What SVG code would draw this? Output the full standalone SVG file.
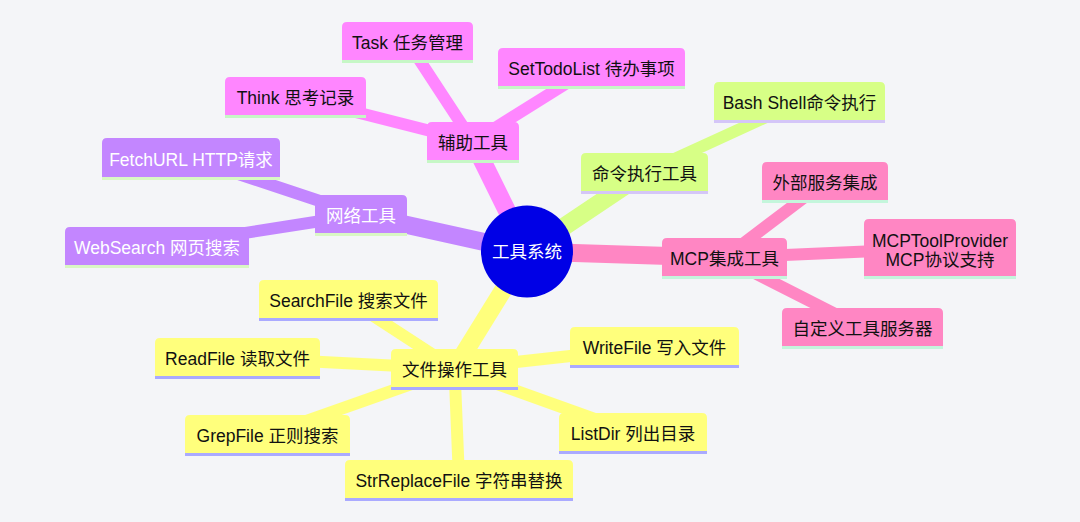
<svg xmlns="http://www.w3.org/2000/svg" width="1080" height="522" viewBox="0 0 1080 522">
<style>
text{font-family:"Liberation Sans","Noto Sans CJK SC",sans-serif;font-size:17.5px;text-anchor:middle;fill:#111}
.e0{stroke-width:18;stroke-linecap:round;fill:none}
.e1{stroke-width:12;stroke-linecap:round;fill:none}
.pk{stroke:#ff86ff}.pu{stroke:#c386ff}.gr{stroke:#d7ff86}.mc{stroke:#ff86c3}.ye{stroke:#ffff7c}
.npk path{fill:#ff86ff}.npk line{stroke:#c6f7c6}
.npu path{fill:#c386ff}.npu line{stroke:#d9f7c4}.npu text{fill:#fff}
.ngr path{fill:#d7ff86}.ngr line{stroke:#d4c6f8}
.nmc path{fill:#ff86c3}.nmc line{stroke:#c4f6dc}
.nye path{fill:#ffff7c}.nye line{stroke:#aaaaff}
line{stroke-width:3}
</style>
<rect width="1080" height="522" fill="#f4f5f8"/>
<g id="connectors">
<line class="e0 pk" x1="527" y1="251.5" x2="473" y2="141.75"/>
<line class="e1 pk" x1="473" y1="141.75" x2="407.5" y2="41.75"/>
<line class="e1 pk" x1="473" y1="141.75" x2="591.5" y2="67.75"/>
<line class="e1 pk" x1="473" y1="141.75" x2="295.5" y2="96.75"/>
<line class="e0 pu" x1="527" y1="251.5" x2="361" y2="214.75"/>
<line class="e1 pu" x1="361" y1="214.75" x2="191" y2="158.25"/>
<line class="e1 pu" x1="361" y1="214.75" x2="157" y2="246.75"/>
<line class="e0 gr" x1="527" y1="251.5" x2="644.5" y2="172.75"/>
<line class="e1 gr" x1="644.5" y1="172.75" x2="799.5" y2="101.75"/>
<line class="e0 mc" x1="527" y1="251.5" x2="724.5" y2="257.75"/>
<line class="e1 mc" x1="724.5" y1="257.75" x2="825" y2="181.75"/>
<line class="e1 mc" x1="724.5" y1="257.75" x2="940" y2="248.25"/>
<line class="e1 mc" x1="724.5" y1="257.75" x2="862.5" y2="327.75"/>
<line class="e0 ye" x1="527" y1="251.5" x2="454.5" y2="368.75"/>
<line class="e1 ye" x1="454.5" y1="368.75" x2="348.5" y2="299.75"/>
<line class="e1 ye" x1="454.5" y1="368.75" x2="237.5" y2="357.75"/>
<line class="e1 ye" x1="454.5" y1="368.75" x2="267.5" y2="434.75"/>
<line class="e1 ye" x1="454.5" y1="368.75" x2="459" y2="479.75"/>
<line class="e1 ye" x1="454.5" y1="368.75" x2="654.5" y2="346.75"/>
<line class="e1 ye" x1="454.5" y1="368.75" x2="633" y2="432.75"/>
</g>
<g id="root">
<circle cx="527" cy="251.5" r="46" fill="#0000e6"/>
<text x="527" y="258" style="fill:#fff">工具系统</text>
</g>
<g id="n-fuzhu" class="npk"><path d="M427 161.5V127Q427 122 432 122H514Q519 122 519 127V161.5Z"/><line x1="427" y1="161.5" x2="519" y2="161.5"/><text x="473" y="149">辅助工具</text></g>
<g id="n-task" class="npk"><path d="M342 61.5V27Q342 22 347 22H468Q473 22 473 27V61.5Z"/><line x1="342" y1="61.5" x2="473" y2="61.5"/><text x="407.5" y="49">Task 任务管理</text></g>
<g id="n-settodo" class="npk"><path d="M498 87.5V53Q498 48 503 48H680Q685 48 685 53V87.5Z"/><line x1="498" y1="87.5" x2="685" y2="87.5"/><text x="591.5" y="75">SetTodoList 待办事项</text></g>
<g id="n-think" class="npk"><path d="M225 116.5V82Q225 77 230 77H361Q366 77 366 82V116.5Z"/><line x1="225" y1="116.5" x2="366" y2="116.5"/><text x="295.5" y="104">Think 思考记录</text></g>
<g id="n-wangluo" class="npu"><path d="M315 234.5V200Q315 195 320 195H402Q407 195 407 200V234.5Z"/><line x1="315" y1="234.5" x2="407" y2="234.5"/><text x="361" y="222">网络工具</text></g>
<g id="n-fetch" class="npu"><path d="M102 178.5V143Q102 138 107 138H275Q280 138 280 143V178.5Z"/><line x1="102" y1="178.5" x2="280" y2="178.5"/><text x="191" y="165.5">FetchURL HTTP请求</text></g>
<g id="n-websearch" class="npu"><path d="M65 266.5V232Q65 227 70 227H244Q249 227 249 232V266.5Z"/><line x1="65" y1="266.5" x2="249" y2="266.5"/><text x="157" y="254">WebSearch 网页搜索</text></g>
<g id="n-mingling" class="ngr"><path d="M581 192.5V158Q581 153 586 153H703Q708 153 708 158V192.5Z"/><line x1="581" y1="192.5" x2="708" y2="192.5"/><text x="644.5" y="180">命令执行工具</text></g>
<g id="n-bash" class="ngr"><path d="M714 121.5V87Q714 82 719 82H880Q885 82 885 87V121.5Z"/><line x1="714" y1="121.5" x2="885" y2="121.5"/><text x="799.5" y="109">Bash Shell命令执行</text></g>
<g id="n-mcp" class="nmc"><path d="M662 277.5V243Q662 238 667 238H782Q787 238 787 243V277.5Z"/><line x1="662" y1="277.5" x2="787" y2="277.5"/><text x="724.5" y="265">MCP集成工具</text></g>
<g id="n-waibu" class="nmc"><path d="M762 201.5V167Q762 162 767 162H883Q888 162 888 167V201.5Z"/><line x1="762" y1="201.5" x2="888" y2="201.5"/><text x="825" y="189">外部服务集成</text></g>
<g id="n-mcptp" class="nmc"><path d="M864 277.5V224Q864 219 869 219H1011Q1016 219 1016 224V277.5Z"/><line x1="864" y1="277.5" x2="1016" y2="277.5"/><text x="940" y="246.5">MCPToolProvider</text><text x="940" y="266">MCP协议支持</text></g>
<g id="n-zidingyi" class="nmc"><path d="M782 347.5V313Q782 308 787 308H938Q943 308 943 313V347.5Z"/><line x1="782" y1="347.5" x2="943" y2="347.5"/><text x="862.5" y="335">自定义工具服务器</text></g>
<g id="n-wenjian" class="nye"><path d="M391 388.5V354Q391 349 396 349H513Q518 349 518 354V388.5Z"/><line x1="391" y1="388.5" x2="518" y2="388.5"/><text x="454.5" y="376">文件操作工具</text></g>
<g id="n-search" class="nye"><path d="M259 319.5V285Q259 280 264 280H433Q438 280 438 285V319.5Z"/><line x1="259" y1="319.5" x2="438" y2="319.5"/><text x="348.5" y="307">SearchFile 搜索文件</text></g>
<g id="n-read" class="nye"><path d="M155 377.5V343Q155 338 160 338H315Q320 338 320 343V377.5Z"/><line x1="155" y1="377.5" x2="320" y2="377.5"/><text x="237.5" y="365">ReadFile 读取文件</text></g>
<g id="n-grep" class="nye"><path d="M185 454.5V420Q185 415 190 415H345Q350 415 350 420V454.5Z"/><line x1="185" y1="454.5" x2="350" y2="454.5"/><text x="267.5" y="442">GrepFile 正则搜索</text></g>
<g id="n-strrep" class="nye"><path d="M345 499.5V465Q345 460 350 460H568Q573 460 573 465V499.5Z"/><line x1="345" y1="499.5" x2="573" y2="499.5"/><text x="459" y="487">StrReplaceFile 字符串替换</text></g>
<g id="n-write" class="nye"><path d="M570 366.5V332Q570 327 575 327H734Q739 327 739 332V366.5Z"/><line x1="570" y1="366.5" x2="739" y2="366.5"/><text x="654.5" y="354">WriteFile 写入文件</text></g>
<g id="n-listdir" class="nye"><path d="M559 452.5V418Q559 413 564 413H702Q707 413 707 418V452.5Z"/><line x1="559" y1="452.5" x2="707" y2="452.5"/><text x="633" y="440">ListDir 列出目录</text></g>
</svg>
